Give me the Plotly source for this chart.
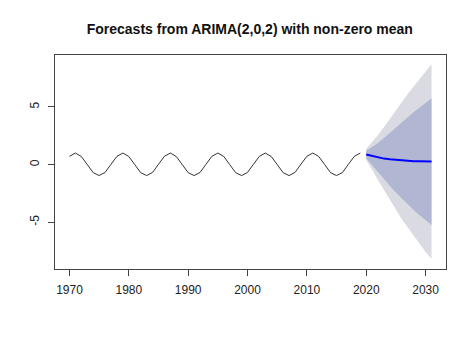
import plotly.graph_objects as go

# Historical series (annual)
hist_years = list(range(1970, 2020))
hist_values = [
    0.72, 1.00, 0.70, 0.00, -0.70, -0.95, -0.68, 0.03,
    0.72, 1.00, 0.70, 0.00, -0.70, -0.95, -0.68, 0.03,
    0.72, 1.00, 0.70, 0.00, -0.70, -0.95, -0.68, 0.03,
    0.72, 1.00, 0.70, 0.00, -0.70, -0.95, -0.68, 0.03,
    0.72, 1.00, 0.70, 0.00, -0.70, -0.95, -0.68, 0.03,
    0.72, 1.00, 0.70, 0.00, -0.70, -0.95, -0.68, 0.03,
    0.72, 1.00,
]

# Forecast
fc_years = list(range(2020, 2032))
fc_mean = [0.88, 0.74, 0.60, 0.52, 0.46, 0.41, 0.37, 0.33, 0.30, 0.28, 0.27, 0.26]
lo80 = [0.56, -0.03, -0.68, -1.27, -1.85, -2.41, -2.96, -3.45, -3.93, -4.39, -4.85, -5.24]
hi80 = [1.20, 1.51, 1.88, 2.31, 2.77, 3.23, 3.70, 4.11, 4.53, 4.95, 5.39, 5.76]
lo95 = [0.39, -0.44, -1.36, -2.22, -3.07, -3.90, -4.73, -5.45, -6.17, -6.87, -7.57, -8.17]
hi95 = [1.37, 1.92, 2.56, 3.26, 3.99, 4.72, 5.47, 6.11, 6.77, 7.43, 8.11, 8.69]

x_ticks = [1970, 1980, 1990, 2000, 2010, 2020, 2030]
y_ticks = [-5, 0, 5]

title = "Forecasts from ARIMA(2,0,2) with non-zero mean"

fig = go.Figure()
fig.add_trace(go.Scatter(
    x=fc_years + fc_years[::-1], y=hi95 + lo95[::-1],
    fill="toself", fillcolor="#DADAE2", line=dict(width=0),
    mode="lines", hoverinfo="skip", showlegend=False))
fig.add_trace(go.Scatter(
    x=fc_years + fc_years[::-1], y=hi80 + lo80[::-1],
    fill="toself", fillcolor="#B1B6D3", line=dict(width=0),
    mode="lines", hoverinfo="skip", showlegend=False))
fig.add_trace(go.Scatter(
    x=hist_years, y=hist_values, mode="lines",
    line=dict(color="#333333", width=1), showlegend=False))
fig.add_trace(go.Scatter(
    x=fc_years, y=fc_mean, mode="lines",
    line=dict(color="#0000FF", width=2), showlegend=False))

axis_common = dict(
    showline=True, linecolor="#444444", linewidth=1, mirror=True,
    ticks="outside", ticklen=6, tickcolor="#444444", tickwidth=1,
    showgrid=False, zeroline=False,
    tickfont=dict(family="Liberation Sans, Arial, sans-serif", size=12, color="#222222"),
)

fig.update_layout(
    width=474, height=338,
    margin=dict(l=55, r=28, t=55, b=69),
    paper_bgcolor="white", plot_bgcolor="white",
    title=dict(text="<b>" + title + "</b>", x=0.527, xanchor="center", y=0.915, yanchor="middle",
               font=dict(family="Liberation Sans, Arial, sans-serif", size=14, color="#111111")),
    xaxis=dict(range=[1967.56, 2033.44], tickvals=x_ticks, ticktext=[str(v) for v in x_ticks],
               ticklabelstandoff=4, **axis_common),
    yaxis=dict(range=[-9.05, 9.5], tickvals=y_ticks, ticktext=[str(v) for v in y_ticks],
               tickangle=-90, ticklabelstandoff=4, **axis_common),
)

fig.write_html("out.html")
